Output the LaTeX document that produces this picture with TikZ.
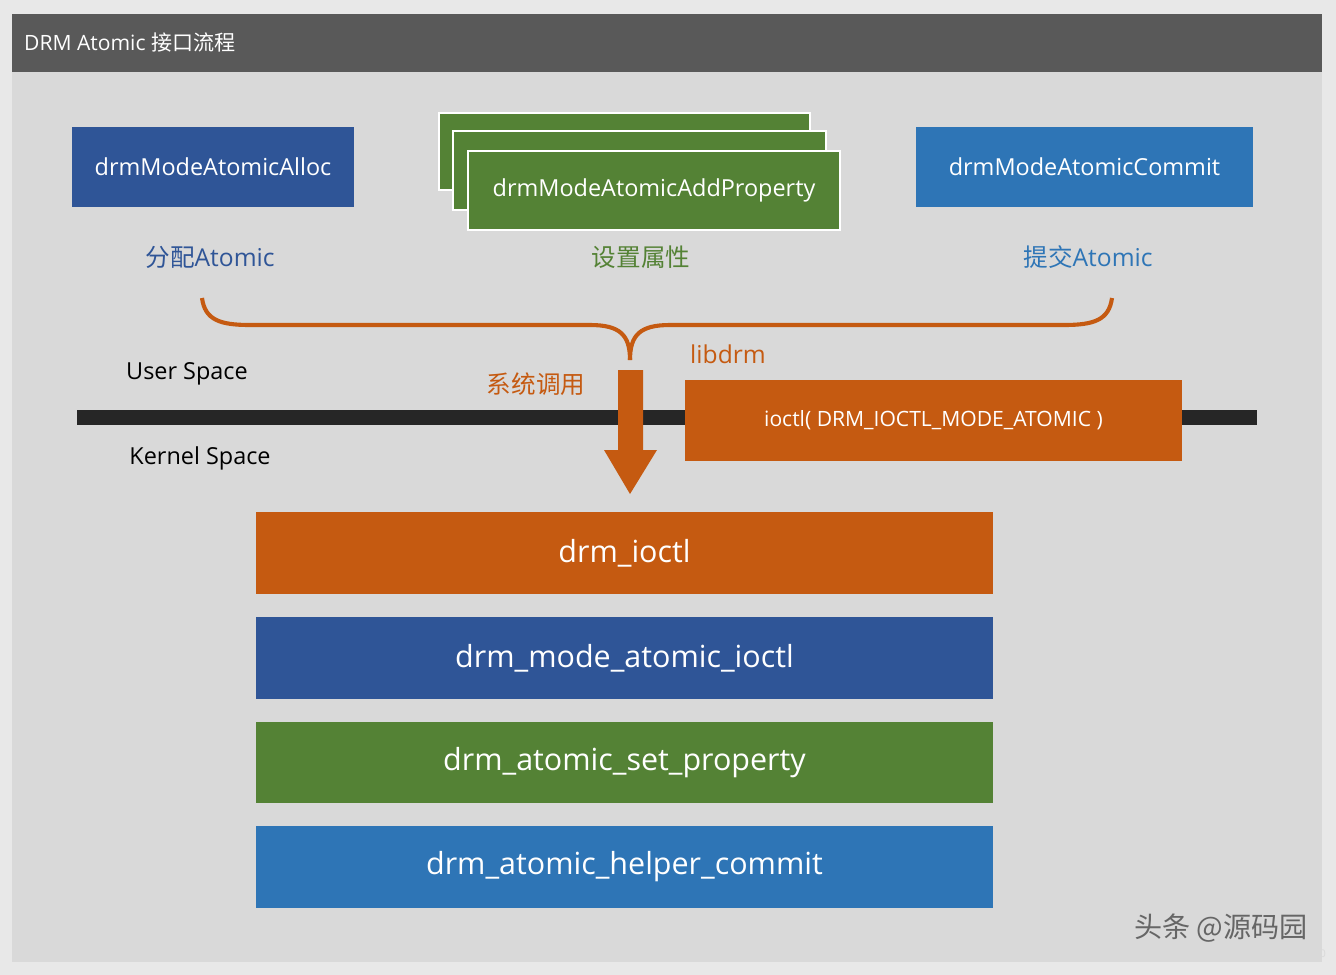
\documentclass[tikz,border=0pt]{standalone}
\usepackage{fontspec}
\setmainfont{Open Sans}
\newfontfamily\cjk{Noto Sans CJK SC}
\definecolor{cblue}{HTML}{2F5597}
\definecolor{cgreen}{HTML}{548235}
\definecolor{clblue}{HTML}{2E75B6}
\definecolor{corange}{HTML}{C55A11}
\definecolor{cpanel}{HTML}{D9D9D9}
\definecolor{ctitle}{HTML}{595959}
\begin{document}
\begin{tikzpicture}[x=0.03cm,y=-0.03cm,
  box/.style={fill=#1,text=white,inner sep=0,font=\fontsize{20}{24}\selectfont},
  bar/.style={fill=#1,text=white,inner sep=0,font=\fontsize{26}{30}\selectfont},
  lbl/.style={text=#1,font=\fontsize{21}{25}\selectfont,inner sep=0}]
\useasboundingbox (0,0) rectangle (1336,975);
\fill[white!91!black] (0,0) rectangle (1336,975);
\fill[cpanel] (12,14) rectangle (1322,962);
\fill[ctitle] (12,14) rectangle (1322,72);
\node[anchor=west,text=white,font=\fontsize{18}{22}\selectfont] (title) at (20,43) {DRM Atomic {\cjk 接口流程}};
% user boxes
\path[box=cblue] (72,127) rectangle (354,207) node[midway] (alloc) {drmModeAtomicAlloc};
\fill[cgreen,draw=white,line width=1pt] (439,113) rectangle (810,190);
\fill[cgreen,draw=white,line width=1pt] (453,131) rectangle (826,210);
\path[box=cgreen,draw=white,line width=1pt] (468,151) rectangle (840,230) node[midway] (addp) {drmModeAtomicAddProperty};
\path[box=clblue] (916,127) rectangle (1253,207) node[midway] (commit) {drmModeAtomicCommit};
\node[lbl=cblue] (l1) at (210,257) {{\cjk 分配}Atomic};
\node[lbl=cgreen] (l2) at (641,257) {\cjk 设置属性};
\node[lbl=clblue] (l3) at (1088,257) {{\cjk 提交}Atomic};
% brace
\draw[corange,line width=3.5pt] (202,298) .. controls (205,320) and (220,325) .. (250,325) -- (590,325) .. controls (620,325) and (630,335) .. (630,360);
\draw[corange,line width=3.5pt] (1112,298) .. controls (1109,320) and (1094,325) .. (1064,325) -- (670,325) .. controls (640,325) and (630,335) .. (630,360);
\node[lbl=corange] (libdrm) at (728,354) {libdrm};
\node[lbl=black,font=\fontsize{20}{24}\selectfont] (us) at (187,374) {User Space};
\node[lbl=corange] (sys) at (536,384) {\cjk 系统调用};
% separator
\fill[black!85] (77,410) rectangle (1257,425);
\fill[corange] (618,370) -- (643,370) -- (643,450) -- (657,450) -- (630,494) -- (604,450) -- (618,450) -- cycle;
\path[box=corange,font=\fontsize{18}{22}\selectfont] (685,380) rectangle (1182,461) node[midway] (ioctl) {ioctl( DRM\_IOCTL\_MODE\_ATOMIC )};
\node[lbl=black,font=\fontsize{20}{24}\selectfont] (ks) at (200,458) {Kernel Space};
% kernel bars
\path[bar=corange] (256,512) rectangle (993,594) node[midway] (k1) {drm\_ioctl};
\path[bar=cblue] (256,617) rectangle (993,699) node[midway] (k2) {drm\_mode\_atomic\_ioctl};
\path[bar=cgreen] (256,722) rectangle (993,803) node[midway] (k3) {drm\_atomic\_set\_property};
\path[bar=clblue] (256,826) rectangle (993,908) node[midway] (k4) {drm\_atomic\_helper\_commit};
% watermark
\node[text=black!60,font=\cjk\fontsize{24}{28}\selectfont,anchor=east,inner sep=0] (wm) at (1308,928) {头条 @源码园};
\node[text=white!85!black,font=\fontsize{9}{11}\selectfont,anchor=east,inner sep=0] (url) at (1326,955) {https://blog.csdn.net/wbf420};
\end{tikzpicture}
\end{document}
